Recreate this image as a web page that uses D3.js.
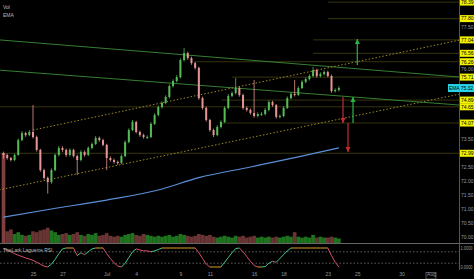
<!DOCTYPE html>
<html>
<head>
<meta charset="utf-8">
<script src="https://cdnjs.cloudflare.com/ajax/libs/d3/7.8.5/d3.min.js"></script>
<style>
html, body { margin: 0; padding: 0; background: #000; }
svg { display: block; font-family: "Liberation Sans", "DejaVu Sans", sans-serif; }
</style>
</head>
<body>
<div id="chart"></div>
<script>
// hourly-ish bars, 4 per trading day, first one two sessions before Jun 25
var opens = [73.00,72.93,72.82,72.75,72.93,73.46,73.71,73.64,73.75,73.57,
73.11,72.39,72.11,71.96,72.39,72.93,73.18,73.11,72.93,73.11,
72.89,72.75,73.04,72.93,73.18,73.32,73.54,73.46,73.29,72.82,
72.75,72.68,72.64,72.89,73.39,73.82,74.11,73.75,73.64,73.57,
73.57,74.04,74.36,74.64,74.79,75.00,75.39,75.57,75.71,76.32,
76.57,76.39,76.21,76.04,74.96,74.61,74.18,73.82,73.64,73.93,
74.11,74.61,75.04,75.14,75.32,75.07,74.61,74.54,74.43,74.32,
74.39,74.39,74.54,74.82,74.71,74.29,74.32,74.61,74.96,75.11,
75.07,75.32,75.54,75.64,75.75,75.96,75.75,75.82,75.89,75.75,
75.21,75.25];
var highs = [73.05,72.98,72.86,72.98,73.52,73.78,73.76,73.82,74.71,73.62,
73.15,72.44,72.16,72.45,72.98,73.25,73.24,73.16,73.17,73.15,
72.94,73.10,73.09,73.24,73.38,73.61,73.59,73.51,73.33,72.88,
72.80,72.73,72.95,73.45,73.88,74.18,74.15,73.80,73.69,73.63,
74.10,74.42,74.70,74.85,75.06,75.45,75.63,75.78,76.38,76.75,
76.62,76.44,76.26,76.08,75.01,74.66,74.22,73.87,73.99,74.17,
74.67,75.10,75.20,75.68,75.37,75.12,74.66,74.59,75.61,74.45,
74.46,74.60,74.88,74.87,74.75,74.38,74.67,75.02,75.17,75.61,
75.38,75.60,75.70,75.81,76.07,76.01,75.88,75.95,75.94,75.80,
75.31,75.38];
var lows = [72.80,72.76,72.70,72.71,72.90,73.42,73.58,73.60,73.52,73.05,
72.33,72.05,71.55,71.90,72.35,72.88,73.04,72.86,72.88,72.84,
72.21,72.70,72.87,72.89,73.13,73.28,73.40,73.24,72.39,72.69,
72.62,72.58,72.60,72.85,73.35,73.78,73.70,73.58,73.51,73.50,
73.53,74.00,74.31,74.59,74.74,74.95,75.34,75.52,75.66,76.27,
76.33,76.15,75.98,74.90,74.55,74.12,73.76,73.57,73.60,73.88,
74.07,74.56,74.99,75.09,75.01,74.55,74.48,74.37,74.26,74.27,
74.33,74.34,74.49,74.65,74.23,74.24,74.28,74.57,74.91,75.02,
75.03,75.28,75.49,75.59,75.70,75.69,75.70,75.77,75.70,75.15,
75.16,75.20];
var closes = [72.93,72.82,72.75,72.93,73.46,73.71,73.64,73.75,73.57,73.11,
72.39,72.11,71.96,72.39,72.93,73.18,73.11,72.93,73.11,72.89,
72.75,73.04,72.93,73.18,73.32,73.54,73.46,73.29,72.82,72.75,
72.68,72.64,72.89,73.39,73.82,74.11,73.75,73.64,73.57,73.57,
74.04,74.36,74.64,74.79,75.00,75.39,75.57,75.71,76.32,76.57,
76.39,76.21,76.04,74.96,74.61,74.18,73.82,73.64,73.93,74.11,
74.61,75.04,75.14,75.32,75.07,74.61,74.54,74.43,74.32,74.39,
74.39,74.54,74.82,74.71,74.29,74.32,74.61,74.96,75.11,75.07,
75.32,75.54,75.64,75.75,75.96,75.75,75.82,75.89,75.75,75.21,
75.25,75.32];
var volumes = [100,13,15,10,12,9,8,9,13,12,
14,15,17,14,12,9,10,11,9,10,
12,9,8,10,9,11,8,9,11,8,
7,8,7,9,10,11,9,8,10,9,
8,7,8,7,8,9,7,8,10,9,
8,7,8,10,9,8,9,7,6,7,
8,7,6,8,7,8,6,7,8,6,
7,6,7,6,7,6,7,8,7,12,
7,6,7,6,9,6,7,6,6,7,
6,5];
var lrsi = [0.95,0.88,0.80,0.70,0.62,0.55,0.48,0.42,0.35,0.25,
0.15,0.05,0.00,0.15,0.40,0.70,0.95,1.00,1.00,1.00,
0.60,0.75,0.65,0.80,0.95,1.00,1.00,1.00,0.70,0.45,
0.22,0.05,0.00,0.20,0.50,0.80,0.95,0.90,0.85,0.85,
0.80,0.85,0.92,1.00,1.00,1.00,1.00,1.00,1.00,1.00,
1.00,1.00,1.00,0.75,0.45,0.15,0.00,0.00,0.00,0.00,
0.25,0.50,0.75,0.97,1.00,0.80,0.55,0.30,0.08,0.00,
0.00,0.02,0.20,0.30,0.25,0.45,0.65,0.85,1.00,1.00,
1.00,1.00,1.00,1.00,1.00,1.00,1.00,1.00,1.00,0.60,
0.25,0.00];

var emaBars = [0, 13, 28, 42, 53, 67, 80, 91];
var emaValues = [70.71, 71.00, 71.32, 71.68, 72.12, 72.50, 72.86, 73.18];

// x axis in trading days, 0 = Jun 25
var dayTicks = [0, 2, 5, 7, 10, 12, 15, 17, 20, 22, 25, 27];
var dayLabels = ["25", "27", "Jul", "4", "9", "11", "16", "18", "23", "25", "30", "Aug"];
var priceTicks = d3.range(70, 78.01, 0.5);

var levelPrices = [78.39, 77.80, 77.04, 76.56, 76.26, 75.71, 74.89, 74.65, 74.07, 72.99];
var levelFrom = [20, 20, 19, 19, 11, 13.5, 12.8, -2.3, 12.8, -2.3];

var greenLines = [[[-2.3, 77.04], [29, 75.71]], [[-2.3, 75.96], [29, 74.71]]];
var dottedLines = [[[0, 73.82], [29, 77.04]], [[-2.3, 71.68], [29, 75.11]]];

// [day, from price, to price]
var upArrows = [[22.0, 76.14, 77.07], [21.71, 74.07, 75.0]];
var downArrows = [[21.03, 75.0, 74.07], [21.37, 74.07, 73.04]];

var lastLabel = "EMA 75.32";

var W = 474, H = 279, plotRight = 459;

var barDay = function (i) { return -2 + i / 4; };

var x = d3.scaleLinear().domain([0, 27]).range([33, 431]);
var y = d3.scaleLinear().domain([70, 78]).range([237, 13]);
var yVol = d3.scaleLinear().domain([0, 100]).range([243, 153]);
var yRsi = d3.scaleLinear().domain([0, 1]).range([267, 248]);

var svg = d3.select("#chart").append("svg")
    .attr("width", W)
    .attr("height", H);

svg.append("rect").attr("width", W).attr("height", H).attr("fill", "#000");

svg.append("clipPath").attr("id", "plot")
    .append("rect").attr("x", 0).attr("y", 0).attr("width", plotRight).attr("height", 243);

var plot = svg.append("g").attr("clip-path", "url(#plot)");

//horizontal levels
levelPrices.forEach(function (p, i) {
    plot.append("line")
        .attr("x1", x(levelFrom[i])).attr("x2", plotRight)
        .attr("y1", y(p)).attr("y2", y(p))
        .attr("stroke", "#36340e").attr("stroke-width", 1);
});

//volume
var bw = (x(1) - x(0)) / 4;
plot.selectAll(".vol")
    .data(volumes)
    .enter().append("rect")
    .attr("x", function (d, i) { return x(barDay(i)) - bw / 2; })
    .attr("y", function (d) { return yVol(d); })
    .attr("width", bw)
    .attr("height", function (d) { return yVol(0) - yVol(d); })
    .attr("fill", function (d, i) { return closes[i] >= opens[i] ? "#2a9a2a" : "#8c4646"; })
    .attr("opacity", function (d, i) { return i === 0 ? 0.9 : 0.75; });

//trend lines
var tl = d3.line().x(function (d) { return x(d[0]); }).y(function (d) { return y(d[1]); });
greenLines.forEach(function (l) {
    plot.append("path").attr("d", tl(l))
        .attr("fill", "none").attr("stroke", "#367f33").attr("stroke-width", 1);
});
dottedLines.forEach(function (l) {
    plot.append("path").attr("d", tl(l))
        .attr("fill", "none").attr("stroke", "#9a8a2a").attr("stroke-width", 1)
        .attr("stroke-dasharray", "1.5,2");
});

//ema
var emaLine = d3.line()
    .x(function (d, i) { return x(barDay(emaBars[i])); })
    .y(function (d) { return y(d); })
    .curve(d3.curveMonotoneX);
plot.append("path").attr("d", emaLine(emaValues))
    .attr("fill", "none").attr("stroke", "#5b8fd6").attr("stroke-width", 1.2);

//candles
var cw = 2;
closes.forEach(function (c, i) {
    var o = opens[i];
    var col = c >= o ? "#56bb56" : "#e69494";
    var cx = x(barDay(i));
    plot.append("line")
        .attr("x1", cx).attr("x2", cx)
        .attr("y1", y(highs[i])).attr("y2", y(lows[i]))
        .attr("stroke", col).attr("stroke-width", 0.8);
    plot.append("rect")
        .attr("x", cx - cw / 2)
        .attr("y", y(Math.max(o, c)))
        .attr("width", cw)
        .attr("height", Math.max(1, Math.abs(y(o) - y(c))))
        .attr("fill", col);
});

//arrows
function arrow(a, col) {
    var ax = x(a[0]), y0 = y(a[1]), y1 = y(a[2]);
    var dir = y1 < y0 ? 1 : -1;
    plot.append("line").attr("x1", ax).attr("x2", ax).attr("y1", y0).attr("y2", y1)
        .attr("stroke", col).attr("stroke-width", 1.2);
    plot.append("path")
        .attr("d", "M" + ax + "," + y1 + "L" + (ax - 2.5) + "," + (y1 + dir * 5) + "L" + (ax + 2.5) + "," + (y1 + dir * 5) + "Z")
        .attr("fill", col);
}
upArrows.forEach(function (a) { arrow(a, "#27b845"); });
downArrows.forEach(function (a) { arrow(a, "#c42b32"); });

//laguerre rsi panel
[0.8, 0.2].forEach(function (v) {
    svg.append("line").attr("x1", 0).attr("x2", plotRight)
        .attr("y1", yRsi(v)).attr("y2", yRsi(v))
        .attr("stroke", "#777").attr("stroke-width", 0.8).attr("stroke-dasharray", "1.5,2");
});
for (var i = 1; i < lrsi.length; i++) {
    var a = lrsi[i - 1], b = lrsi[i];
    var col = "#d9506a";
    if ((a >= 0.99 && b >= 0.99) || (a <= 0.01 && b <= 0.01)) col = "#e0a030";
    else if (b > a) col = "#45c98a";
    svg.append("line")
        .attr("x1", x(barDay(i - 1))).attr("x2", x(barDay(i)))
        .attr("y1", yRsi(a)).attr("y2", yRsi(b))
        .attr("stroke", col).attr("stroke-width", 1);
}

//frame
svg.append("line").attr("x1", 0).attr("x2", W).attr("y1", 243.5).attr("y2", 243.5)
    .attr("stroke", "#666").attr("stroke-width", 1);
svg.append("line").attr("x1", plotRight + 0.5).attr("x2", plotRight + 0.5).attr("y1", 0).attr("y2", 270)
    .attr("stroke", "#555").attr("stroke-width", 1);

//right price axis, skipping ticks hidden under price tags
var lastPrice = closes[closes.length - 1];
var tagged = levelPrices.concat([lastPrice]);
var freeTicks = priceTicks.filter(function (t) {
    return tagged.every(function (p) { return Math.abs(y(p) - y(t)) > 6; });
});
var ax = svg.append("g").attr("transform", "translate(" + (plotRight + 2) + ",0)")
    .call(d3.axisRight(y).tickValues(freeTicks).tickFormat(d3.format(".2f")).tickSize(0).tickPadding(0));
ax.select(".domain").remove();
ax.selectAll("text").attr("fill", "#9a9a9a").style("font-size", "5px");

var rx = svg.append("g").attr("transform", "translate(" + (plotRight + 1.5) + ",0)")
    .call(d3.axisRight(yRsi).tickValues([0, 1]).tickFormat(d3.format(".4f")).tickSize(0).tickPadding(0));
rx.select(".domain").remove();
rx.selectAll("text").attr("fill", "#9a9a9a").style("font-size", "4.5px")
    .attr("textLength", 12).attr("lengthAdjust", "spacingAndGlyphs");

//level price tags
levelPrices.forEach(function (p) {
    svg.append("rect").attr("x", plotRight + 1).attr("y", y(p) - 3.5)
        .attr("width", W - plotRight - 1).attr("height", 7).attr("fill", "#f2f200");
    svg.append("text").attr("x", plotRight + 2).attr("y", y(p) + 1.8)
        .attr("fill", "#000").style("font-size", "5px").text(d3.format(".2f")(p));
});
var lastY = y(lastPrice);
svg.append("rect").attr("x", 448).attr("y", lastY - 4)
    .attr("width", W - 448).attr("height", 8).attr("fill", "#27d3e6");
svg.append("text").attr("x", 449).attr("y", lastY + 1.8)
    .attr("fill", "#000").style("font-size", "5px")
    .attr("textLength", 24).attr("lengthAdjust", "spacingAndGlyphs").text(lastLabel);

//bottom time axis
var bx = svg.append("g").attr("transform", "translate(0,272)")
    .call(d3.axisBottom(x).tickValues(dayTicks).tickFormat(function (d, i) { return dayLabels[i]; }).tickSize(0).tickPadding(0));
bx.select(".domain").remove();
bx.selectAll("text").attr("fill", "#9a9a9a").style("font-size", "5px");
svg.append("rect").attr("x", x(27) - 5).attr("y", 272.5).attr("width", 10).attr("height", 6.5)
    .attr("fill", "none").attr("stroke", "#888").attr("stroke-width", 0.6);

//legends
svg.append("text").attr("x", 3).attr("y", 9).attr("fill", "#bbb").style("font-size", "5px").text("Vol");
svg.append("text").attr("x", 3).attr("y", 17).attr("fill", "#bbb").style("font-size", "5px").text("EMA");
svg.append("text").attr("x", 3).attr("y", 252).attr("fill", "#bbb").style("font-size", "5px").text("TheLark Laguerre RSI");
</script>
</body>
</html>
